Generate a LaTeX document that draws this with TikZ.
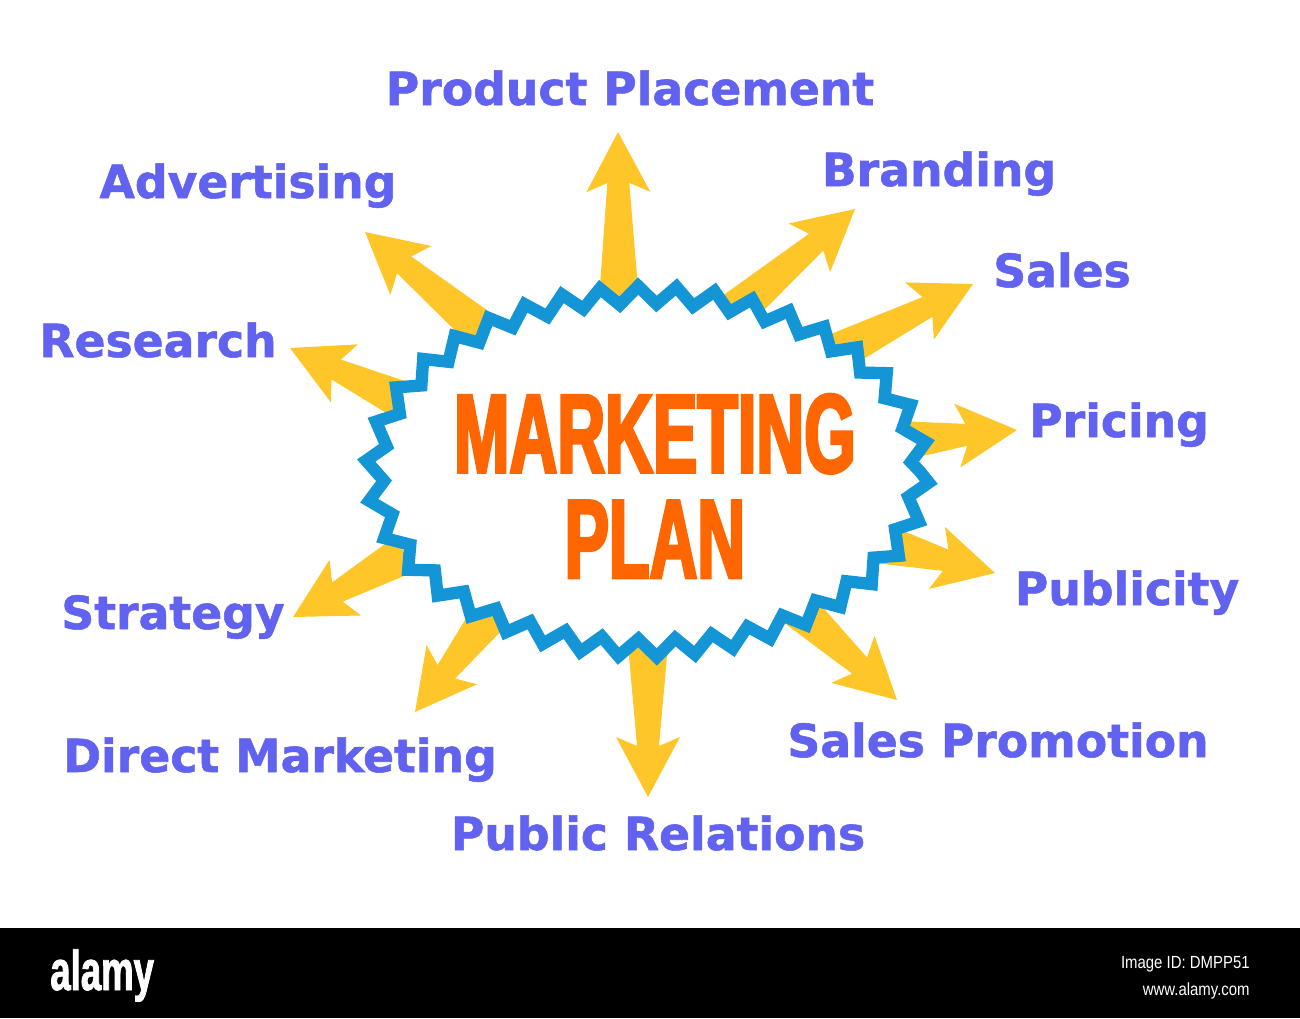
\documentclass[tikz,border=0pt]{standalone}
\usepackage{fontspec}
\usetikzlibrary{calc, shapes.geometric, decorations.pathmorphing}

\newfontfamily\topicfont{DejaVu Sans}[FakeBold=1.2]
\newfontfamily\planfont{Liberation Sans}[FakeStretch=0.59, FakeBold=2.5]
\newfontfamily\logofont{Liberation Sans}[FakeStretch=0.65, FakeBold=1.5]
\newfontfamily\creditfont{Liberation Sans}[FakeStretch=0.85]

\definecolor{topicblue}{RGB}{98,98,240}
\definecolor{raygold}{RGB}{255,198,42}
\definecolor{zigblue}{RGB}{20,150,214}
\definecolor{planorange}{RGB}{255,102,0}

\newcommand\sunray[2]{%
   \coordinate (#2-neck) at ($(#2)!1.02cm!(#1)$);
   \coordinate (#2-wing) at ($(#2)!1.2cm!(#1)$);
   \fill[raygold] ($(#1)!0.4cm!90:(#2)$) -- ($(#2-neck)!0.22cm!90:(#2)$)
      -- ($(#2-wing)!0.64cm!90:(#2)$) -- (#2) -- ($(#2-wing)!0.64cm!-90:(#2)$)
      -- ($(#2-neck)!0.22cm!-90:(#2)$) -- ($(#1)!0.4cm!-90:(#2)$) -- cycle;}

\begin{document}
\begin{tikzpicture}[x=0.02cm, y=-0.02cm,
   topic/.style={anchor=base, inner sep=0pt, text=topicblue, font=\topicfont\bfseries\fontsize{26}{30}\selectfont},
   plan/.style={ellipse, draw=zigblue, fill=white, line width=7pt, line join=miter, line cap=round,
      minimum width=10.9cm, minimum height=7.06cm, inner sep=0pt,
      decorate, decoration={zigzag, segment length=0.7509cm, amplitude=0.18cm}},
   heading/.style={align=center, inner sep=0pt, text=planorange, font=\planfont\bfseries\fontsize{64}{60}\selectfont},
   credit/.style={anchor=base east, inner sep=0pt, text=white, font=\creditfont\fontsize{10}{12}\selectfont}]
   \useasboundingbox (0,0) rectangle (1300,1018);

   \coordinate (placement-base)   at (619,300);  \coordinate (placement-tip)   at (618,132);
   \coordinate (branding-base)    at (734,312);  \coordinate (branding-tip)    at (855,209);
   \coordinate (sales-base)       at (832,355);  \coordinate (sales-tip)       at (973,284);
   \coordinate (pricing-base)     at (900,441);  \coordinate (pricing-tip)     at (1017,430);
   \coordinate (publicity-base)   at (883,544);  \coordinate (publicity-tip)   at (995,573);
   \coordinate (promotion-base)   at (796,607);  \coordinate (promotion-tip)   at (897,700);
   \coordinate (relations-base)   at (648,645);  \coordinate (relations-tip)   at (648,797);
   \coordinate (direct-base)      at (495,609);  \coordinate (direct-tip)      at (415,712);
   \coordinate (strategy-base)    at (405,554);  \coordinate (strategy-tip)    at (293,617);
   \coordinate (research-base)    at (408,403);  \coordinate (research-tip)    at (290,348);
   \coordinate (advertising-base) at (489,336);  \coordinate (advertising-tip) at (365,232);

   \foreach \r in {placement, branding, sales, pricing, publicity, promotion,
                   relations, direct, strategy, research, advertising}
      \sunray{\r-base}{\r-tip};

   \node[plan] (plan) at (647.5,471.5) {};
   \node[heading] (title) at (655,486) {MARKETING\\PLAN};

   \node[topic] (placement)   at (630,105)  {Product Placement};
   \node[topic] (advertising) at (248,198)  {Advertising};
   \node[topic] (branding)    at (939,186)  {Branding};
   \node[topic] (sales)       at (1062,287) {Sales};
   \node[topic] (research)    at (158,357)  {Research};
   \node[topic] (pricing)     at (1119,437) {Pricing};
   \node[topic] (publicity)   at (1127,605) {Publicity};
   \node[topic] (strategy)    at (173,629)  {Strategy};
   \node[topic] (direct)      at (280,772)  {Direct Marketing};
   \node[topic] (promotion)   at (998,757)  {Sales Promotion};
   \node[topic] (relations)   at (658,850)  {Public Relations};

   \fill[black] (0,928) rectangle (1300,1018);
   \node[anchor=base west, inner sep=0pt, text=white, font=\logofont\bfseries\fontsize{32}{36}\selectfont]
      (alamy) at (50,990) {alamy};
   \node[credit] (imageid) at (1250,968) {Image ID: DMPP51};
   \node[credit] (website) at (1250,995) {www.alamy.com};
\end{tikzpicture}
\end{document}
